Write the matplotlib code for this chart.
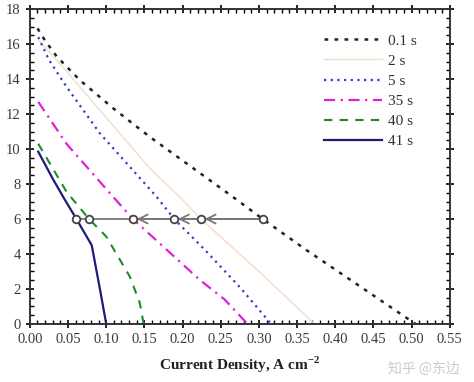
import numpy as np
import matplotlib
matplotlib.use("Agg")
import matplotlib.pyplot as plt
from matplotlib.ticker import MultipleLocator, FormatStrFormatter

# Curves: current density (A cm^-2) vs value
x_01 = [0.010, 0.020, 0.035, 0.0655, 0.110, 0.157, 0.266, 0.305, 0.362, 0.505]
y_01 = [16.9, 16.2, 15.3, 13.94, 12.3, 10.7, 7.26, 6.0, 4.23, 0.0]

x_2 = [0.012, 0.043, 0.100, 0.157, 0.200, 0.224, 0.300, 0.373]
y_2 = [16.2, 14.7, 11.8, 8.9, 7.1, 6.0, 3.0, 0.0]

x_5 = [0.011, 0.025, 0.048, 0.0917, 0.166, 0.189, 0.230, 0.275, 0.316]
y_5 = [16.4, 15.1, 13.56, 10.9, 7.27, 6.0, 4.2, 2.1, 0.0]

x_35 = [0.011, 0.048, 0.109, 0.135, 0.223, 0.255, 0.285]
y_35 = [12.7, 10.3, 7.27, 6.0, 2.5, 1.4, 0.0]

x_40 = [0.011, 0.048, 0.0775, 0.100, 0.131, 0.144, 0.149]
y_40 = [10.3, 7.56, 6.0, 5.0, 2.7, 1.2, 0.0]

x_41 = [0.011, 0.030, 0.046, 0.061, 0.081, 0.092, 0.100]
y_41 = [9.85, 8.3, 7.09, 6.0, 4.5, 1.94, 0.0]

# marked points at the same level, right to left
mark_x = [0.305, 0.224, 0.189, 0.135, 0.0775, 0.061]
mark_y = 6.0

plt.rcParams["font.family"] = ["Liberation Serif", "DejaVu Serif"]
fig = plt.figure(figsize=(4.74, 3.82), dpi=100)
ax = fig.add_axes([0.063, 0.152, 0.886, 0.824])

ax.plot(x_01, y_01, color="#222222", ls=(0, (1.5, 2.5)), lw=1.8, label="0.1 s")
ax.plot(x_2, y_2, color="#f4dccb", ls="-", lw=1.0, label="2 s")
ax.plot(x_5, y_5, color="#3a3ac8", ls=(0, (1, 2)), lw=1.6, label="5 s")
ax.plot(x_35, y_35, color="#e020d8", ls=(0, (5, 2.5, 1, 2.5)), lw=1.6, label="35 s")
ax.plot(x_40, y_40, color="#1e8a2a", ls=(0, (4, 3.5)), lw=1.5, label="40 s")
ax.plot(x_41, y_41, color="#1c1c78", ls="-", lw=1.6, label="41 s")

# gray connector with arrows pointing left
ax.plot([mark_x[-1], mark_x[0]], [mark_y, mark_y], color="#777777", lw=1.3, zorder=3)
for x0, x1 in zip(mark_x[:3], mark_x[1:4]):
    ax.annotate("", xy=(x1 + 0.005, mark_y), xytext=(x0, mark_y),
                arrowprops=dict(arrowstyle="->", color="#777777", lw=1.3,
                                mutation_scale=16, shrinkA=0, shrinkB=0),
                zorder=3)
ax.plot(mark_x, [mark_y] * len(mark_x), ls="none", marker="o", ms=5.5,
        mfc="white", mec="#444444", mew=1.3, zorder=4)

ax.set_xlim(0, 0.55)
ax.set_ylim(0, 18)
ax.xaxis.set_major_locator(MultipleLocator(0.05))
ax.xaxis.set_minor_locator(MultipleLocator(0.01))
ax.yaxis.set_major_locator(MultipleLocator(2))
ax.yaxis.set_minor_locator(MultipleLocator(0.5))
ax.xaxis.set_major_formatter(FormatStrFormatter("%.2f"))

ax.tick_params(which="major", direction="inout", length=6, width=1.2,
               labelsize=10.5, labelcolor="#3a3a3a", top=True, right=True)
ax.tick_params(which="minor", direction="in", length=3, width=1.0,
               top=True, right=True)
for s in ax.spines.values():
    s.set_linewidth(1.4)
    s.set_color("#333333")

ax.set_xlabel("Current Density, A cm$^{\\mathregular{-2}}$", fontsize=11,
              fontweight="bold", color="#222222", labelpad=6)

leg = ax.legend(loc="upper right", bbox_to_anchor=(0.955, 0.965), frameon=False,
                fontsize=11, handlelength=3.8, labelspacing=0.42,
                handletextpad=0.4)
for t in leg.get_texts():
    t.set_color("#333333")

fig.text(0.97, 0.035, "知乎 @东边", ha="right", va="center", fontsize=10,
         color="#cccccc", family=["Noto Sans CJK SC", "DejaVu Sans"])

fig.savefig("out.png", dpi=100)
